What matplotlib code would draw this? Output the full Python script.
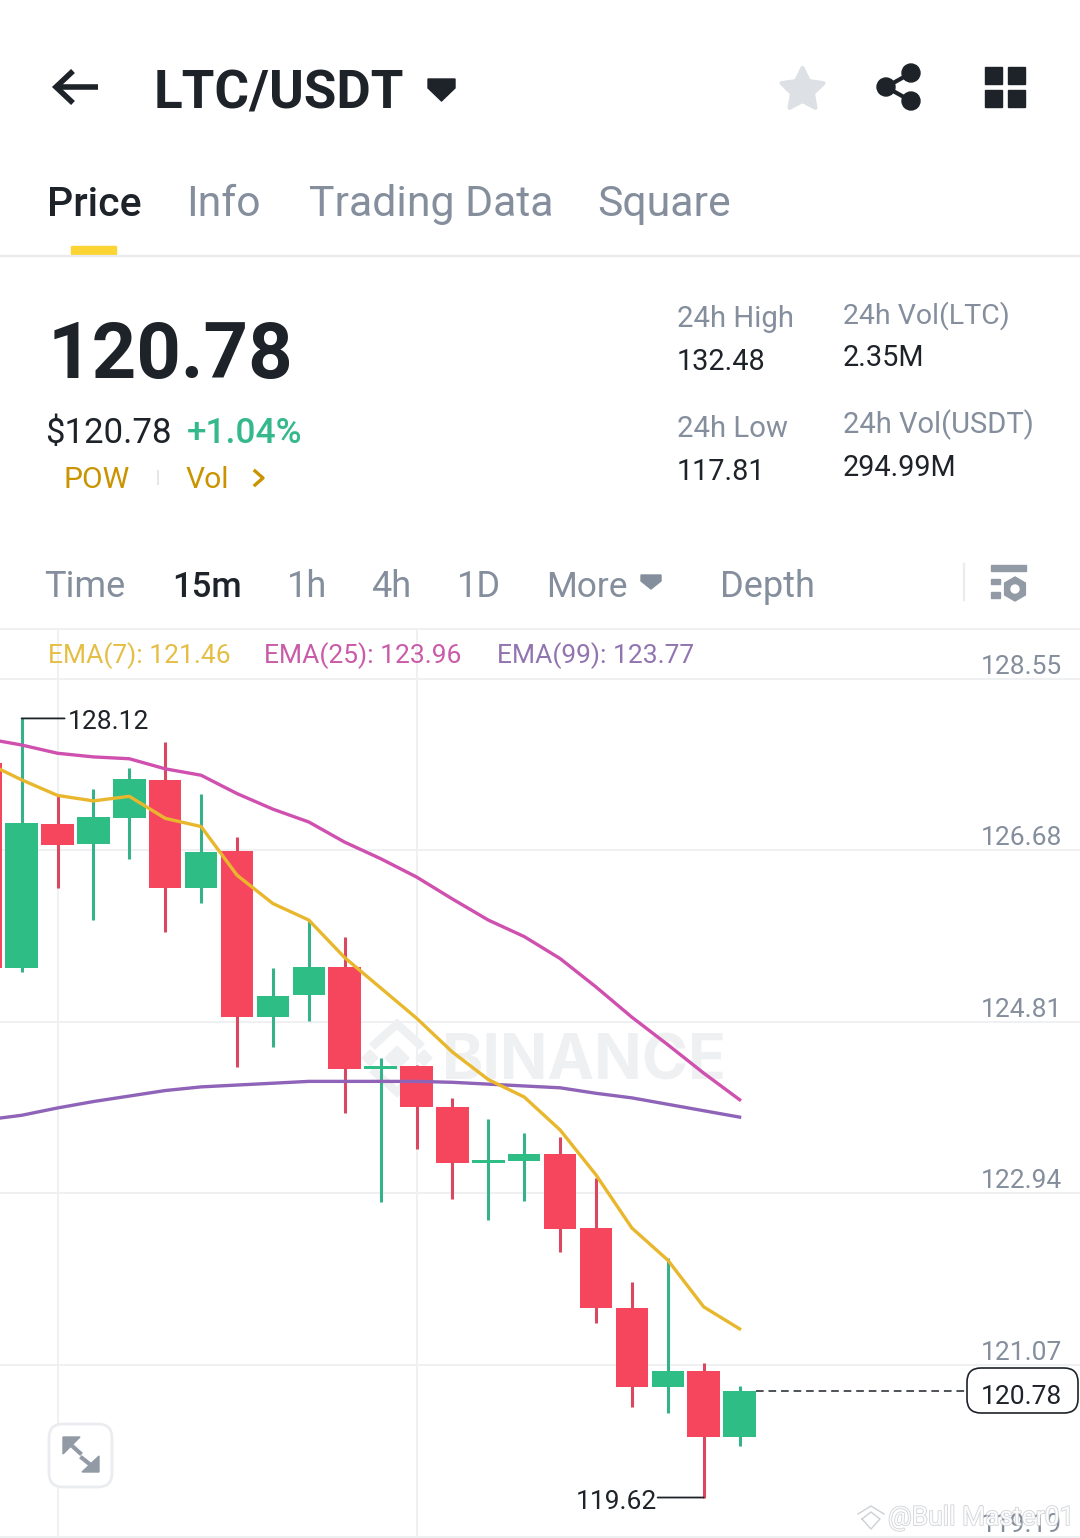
import numpy as np
import matplotlib
matplotlib.use('Agg')
import matplotlib.pyplot as plt
import matplotlib.patheffects as pe
from matplotlib.patches import Polygon, Circle, Rectangle, FancyBboxPatch, RegularPolygon

plt.rcParams['font.family'] = ['Roboto', 'DejaVu Sans']

# candles, oldest first. the first one is cut off by the left edge
first_index = -1
opens = [127.63, 125.40, 126.97, 126.75, 127.03, 127.45, 126.27, 126.67, 124.86, 125.10, 125.41,
         124.30, 124.33, 123.88, 123.27, 123.29, 123.37, 122.56, 121.69, 120.83, 121.00, 120.28]
highs = [127.63, 128.12, 127.27, 127.35, 127.58, 127.86, 127.30, 126.83, 125.40, 125.92, 125.74,
         124.42, 124.34, 123.98, 123.75, 123.60, 123.55, 123.11, 121.97, 122.23, 121.09, 120.84]
lows = [125.40, 125.35, 126.27, 125.92, 126.59, 125.79, 126.11, 124.32, 124.54, 124.82, 123.82,
        122.84, 123.42, 122.88, 122.65, 122.86, 122.30, 121.52, 120.61, 120.54, 119.62, 120.18]
closes = [125.40, 126.98, 126.74, 127.04, 127.46, 126.27, 126.66, 124.86, 125.09, 125.41, 124.30,
          124.33, 123.88, 123.27, 123.30, 123.37, 122.55, 121.69, 120.83, 121.00, 120.28, 120.78]

ema7 = [127.64, 127.45, 127.28, 127.22, 127.27, 127.03, 126.94, 126.41, 126.10, 125.92, 125.51,
        125.18, 124.85, 124.48, 124.18, 123.99, 123.63, 123.14, 122.56, 122.21, 121.70, 121.46]
ema25 = [127.90, 127.83, 127.74, 127.70, 127.68, 127.57, 127.50, 127.30, 127.13, 126.99, 126.77,
         126.59, 126.39, 126.15, 125.92, 125.74, 125.50, 125.19, 124.86, 124.56, 124.25, 123.96]
ema99 = [123.74, 123.79, 123.87, 123.94, 124.00, 124.06, 124.10, 124.12, 124.14, 124.16, 124.16,
         124.16, 124.16, 124.15, 124.13, 124.11, 124.09, 124.03, 123.98, 123.91, 123.84, 123.77]

price_ticks = [128.55, 126.68, 124.81, 122.94, 121.07, 119.19]
price_tick_labels = ['128.55', '126.68', '124.81', '122.94', '121.07', '119.19']
tabs = ['Price', 'Info', 'Trading Data', 'Square']
periods = ['Time', '15m', '1h', '4h', '1D', 'More', 'Depth']
high_label = 128.12
low_label = 119.62
last_price = 120.78

DARK = '#1E2329'
GREY = '#848E9C'
LINE = '#EEF0F2'
GREEN = '#2EBD85'
RED = '#F6465D'
GOLD = '#C99400'

fig = plt.figure(figsize=(10.8, 15.38), dpi=100)

# chart area, from the line under the period row down to the bottom edge
ax = fig.add_axes([0, 0, 1, (1538 - 629) / 1538], zorder=1)
ax.set_xlim(-21.6 / 35.9, (1080 - 21.6) / 35.9)
ax.set_ylim(128.55 - 859 * 0.01091, 128.55 + 50 * 0.01091)
ax.patch.set_alpha(0)
for s in ax.spines.values():
    s.set_visible(False)
ax.spines['top'].set_visible(True)
ax.spines['top'].set_color(LINE)
ax.spines['top'].set_linewidth(1.4)
ax.set_xticks([1, 11])
ax.set_yticks(price_ticks)
ax.set_xticklabels([])
ax.set_yticklabels([])
ax.tick_params(length=0)
ax.grid(True, color=LINE, linewidth=1.4)
ax.set_axisbelow(True)

# whole page in pixels, for the app ui around the chart
ui = fig.add_axes([0, 0, 1, 1], zorder=2)
ui.set_xlim(0, 1080)
ui.set_ylim(1538, 0)
ui.axis('off')
ui.patch.set_alpha(0)


def label(x, y, s, size, color=DARK, weight='normal', ha='left'):
    return ui.text(x, y, s, fontsize=size, color=color, fontweight=weight, ha=ha, va='baseline')


# --- header ---
ui.plot([98, 56], [87, 87], color=DARK, lw=4, solid_capstyle='butt')
ui.plot([73, 56, 73], [71, 87, 103], color=DARK, lw=4, solid_joinstyle='miter', solid_capstyle='butt')
label(154, 108, 'LTC/USDT', 38.2, weight='bold')
ui.add_patch(Polygon([(428, 79), (455, 79), (455, 88), (441.5, 101), (428, 88)], color=DARK))

angles = np.pi / 2 + np.arange(10) * np.pi / 5
radii = np.where(np.arange(10) % 2 == 0, 22, 11)
star = np.c_[802.5 + radii * np.cos(angles), 90 - radii * np.sin(angles)]
ui.add_patch(Polygon(star, facecolor='#DDE0E4', edgecolor='#DDE0E4', lw=3, joinstyle='round'))

ui.plot([911, 886, 911], [73, 87, 101], color=DARK, lw=3)
for cx, cy in [(911, 73), (886, 87), (911, 101)]:
    ui.add_patch(Circle((cx, cy), 9, color=DARK))
for x0, y0, w, h in [(985, 67, 17, 17), (1008, 67, 17, 17), (985, 90, 17, 17), (1008, 90, 17, 17)]:
    ui.add_patch(Rectangle((x0, y0), w, h, color=DARK))

# --- tabs ---
for s, x, c in zip(tabs, [47, 186, 309, 597], [DARK, GREY, GREY, GREY]):
    if s == 'Price':
        label(x, 216, s, 29.5, color=c, weight='medium')
    else:
        label(x, 216, s, 30.8, color=c)
ui.add_patch(Rectangle((71, 246), 45, 9, color='#FCD535'))
ui.plot([0, 1080], [256, 256], color='#E9EBEE', lw=1.6)

# --- price block ---
label(48, 378, '120.78', 56, weight='bold')
label(45, 443, '$120.78', 25)
label(187, 443, '+1.04%', 25.4, color='#35B98C', weight='medium')
label(63, 488, 'POW', 21.6, color=GOLD)
ui.plot([158, 158], [471, 484], color='#E4E6E9', lw=1.4)
label(186, 488, 'Vol', 21.6, color=GOLD)
ui.plot([255, 263, 255], [471, 478, 485], color=GOLD, lw=2.4)

label(677, 327, '24h High', 21.2, color=GREY)
label(677, 370, '132.48', 20.8)
label(677, 437, '24h Low', 21.2, color=GREY)
label(677, 480, '117.81', 20.8)
label(843, 324, '24h Vol(LTC)', 20.5, color=GREY)
label(843, 366, '2.35M', 20.8)
label(843, 433, '24h Vol(USDT)', 21, color=GREY)
label(843, 476, '294.99M', 20.8)

# --- period row ---
for s, x in zip(periods, [44, 172, 287, 371, 457, 546, 720]):
    if s == '15m':
        label(x, 597, s, 25, weight='medium')
    elif s == 'More':
        label(x, 597, s, 25.4, color=GREY)
    else:
        label(x, 597, s, 26, color=GREY)
ui.add_patch(Polygon([(641, 575), (661, 575), (661, 581), (651, 589), (641, 581)], color=GREY))
ui.plot([964, 964], [564, 600], color='#EAECEF', lw=1.6)
ui.add_patch(Rectangle((991, 565), 35, 6, color='#929AA5'))
ui.add_patch(Rectangle((991, 579), 9, 5, color='#929AA5'))
ui.add_patch(Rectangle((991, 592), 9, 6, color='#929AA5'))
ui.add_patch(RegularPolygon((1015, 589), 6, radius=12, color='#929AA5'))
ui.add_patch(Circle((1015, 589), 4, color='white'))

# --- ema legend ---
label(48, 663, 'EMA(7): 121.46', 19, color='#E5BE45')
label(264, 663, 'EMA(25): 123.96', 19, color='#C95BA9')
label(497, 663, 'EMA(99): 123.77', 19, color='#9274B0')

# --- watermark behind the candles ---
wm = '#EFF0F1'
ax.text(442, 1080, 'BINANCE', transform=ui.transData, fontsize=45, fontweight='bold', color=wm, zorder=0.6,
        family=['Inter', 'DejaVu Sans'])
wx, wy = 397, 1058
ax.plot([wx - 22, wx, wx + 22], [wy - 14, wy - 34, wy - 14], transform=ui.transData, color=wm, lw=6, zorder=0.6,
        solid_joinstyle='miter')
ax.plot([wx - 22, wx, wx + 22], [wy + 14, wy + 34, wy + 14], transform=ui.transData, color=wm, lw=6, zorder=0.6,
        solid_joinstyle='miter')
for dx, r in [(0, 12), (-27, 8), (27, 8)]:
    ax.add_patch(Polygon([(wx + dx - r, wy), (wx + dx, wy - r), (wx + dx + r, wy), (wx + dx, wy + r)],
                         transform=ui.transData, color=wm, zorder=0.6))

# --- candles ---
idx = np.arange(len(opens)) + first_index
opens_a = np.array(opens)
closes_a = np.array(closes)
up = closes_a >= opens_a
ax.vlines(idx[up], np.array(lows)[up], np.array(highs)[up], color='#35B28A', lw=2.2, zorder=2)
ax.vlines(idx[~up], np.array(lows)[~up], np.array(highs)[~up], color='#D9485F', lw=2.2, zorder=2)
ax.bar(idx[up], (closes_a - opens_a)[up], bottom=opens_a[up], width=0.905, color=GREEN, zorder=3)
ax.bar(idx[~up], (closes_a - opens_a)[~up], bottom=opens_a[~up], width=0.905, color=RED, zorder=3)

ax.plot(idx, ema99, color='#8E63B8', lw=2.4, zorder=4)
ax.plot(idx, ema25, color='#CF50AE', lw=2.4, zorder=4)
ax.plot(idx, ema7, color='#E8B72E', lw=2.4, zorder=4)

# --- price labels on the right ---
for val, s in zip(price_ticks, price_tick_labels):
    ax.annotate(s, xy=(1, val), xycoords=ax.get_yaxis_transform(), xytext=(-18, 5), textcoords='offset pixels',
                ha='right', va='baseline', fontsize=19, color=GREY)

# --- high and low markers ---
ax.annotate(f'{high_label:.2f}', xy=(0, high_label), xytext=(46, -11), textcoords='offset pixels',
            ha='left', va='baseline', fontsize=19, color=DARK)
ax.annotate('', xy=(0, high_label), xytext=(43, 0), textcoords='offset pixels',
            arrowprops=dict(arrowstyle='-', color=DARK, lw=1.3, shrinkA=0, shrinkB=0))
ax.annotate(f'{low_label:.2f}', xy=(19, low_label), xytext=(-47, -11), textcoords='offset pixels',
            ha='right', va='baseline', fontsize=19, color=DARK)
ax.annotate('', xy=(19, low_label), xytext=(-46, 0), textcoords='offset pixels',
            arrowprops=dict(arrowstyle='-', color=DARK, lw=1.3, shrinkA=0, shrinkB=0))

# --- last price ---
ax.plot([20.45, 26.32], [last_price, last_price], color=DARK, lw=1.1, dashes=(5, 3.2), zorder=2)
ui.add_patch(FancyBboxPatch((967, 1368), 111, 45, boxstyle='round,pad=0,rounding_size=14',
                            facecolor='white', edgecolor=DARK, lw=1.2))
label(1062, 1404, f'{last_price:.2f}', 19, ha='right')

# --- expand button ---
ui.add_patch(FancyBboxPatch((49, 1424), 63, 63, boxstyle='round,pad=0,rounding_size=14',
                            facecolor='white', edgecolor='#EAECEF', lw=2))
ui.add_patch(Polygon([(63, 1437), (80, 1437), (63, 1454)], color='#929AA5'))
ui.add_patch(Polygon([(99, 1472), (99, 1456), (82, 1472)], color='#929AA5'))
ui.plot([70, 80], [1444, 1453], color='#929AA5', lw=3)
ui.plot([82, 92], [1458, 1466], color='#929AA5', lw=3)

# --- user watermark bottom right ---
ui.text(888, 1525, '@Bull Master01', fontsize=19, color='white', alpha=0.9,
        path_effects=[pe.withStroke(linewidth=1.2, foreground='#CDD0D4')])
ui.plot([858, 871, 884], [1514, 1506, 1514], color='#CDD0D4', lw=1)
ui.plot([862, 871, 880, 871, 862], [1519, 1529, 1519, 1512, 1519], color='#CDD0D4', lw=1)

fig.savefig('out.png', dpi=100, facecolor='white')
